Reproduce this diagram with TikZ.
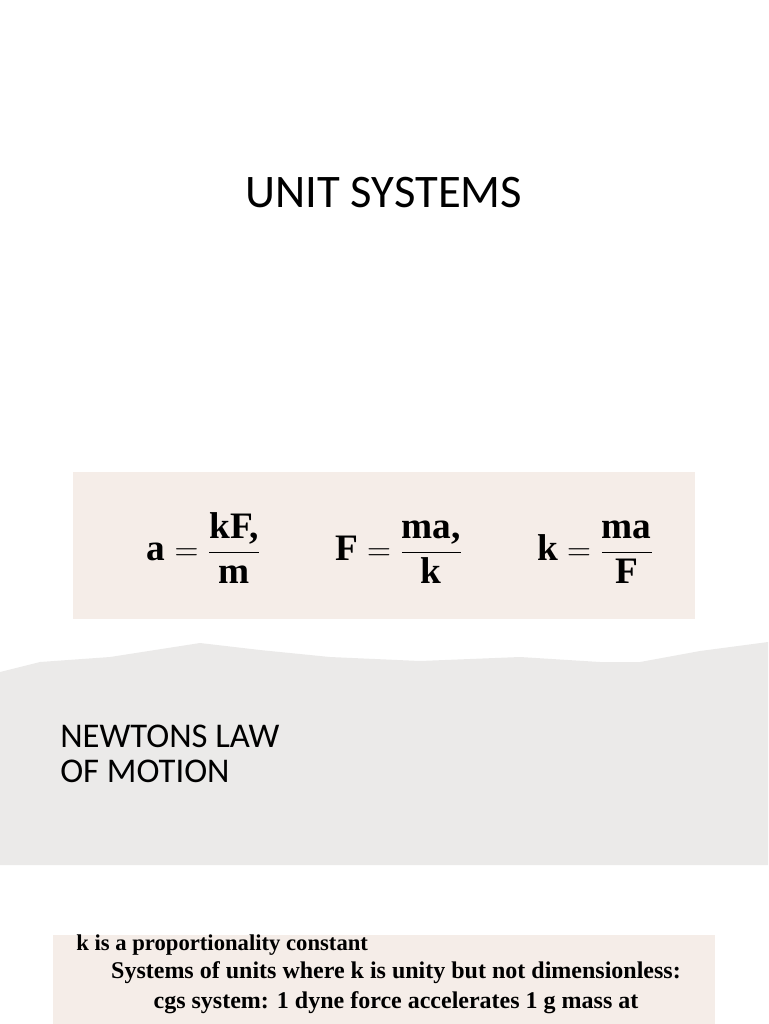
\documentclass[tikz,border=0pt]{standalone}
\usepackage{amsmath}
\usepackage{fontspec}
\setmainfont{Carlito}
\newfontfamily\scanfont{Liberation Serif}
\definecolor{bandgray}{HTML}{EBEAE9}
\definecolor{scanpaper}{HTML}{F5EDE8}
\newcommand{\sct}[1]{\text{\scanfont\bfseries #1}}
\tikzset{
  scan/.style={fill=scanpaper,draw=none},
  slidetext/.style={anchor=base west,inner sep=0pt,align=left},
}
\begin{document}
\begin{tikzpicture}[x=0.75pt,y=-0.75pt]
\useasboundingbox (0,0) rectangle (768,1024);
% le titre
\node[anchor=base,inner sep=0pt,font=\fontsize{35}{42}\selectfont] (title) at (384,207) {UNIT SYSTEMS};
% la bande grise
\fill[bandgray] (0,672)--(40,662)--(110,657)--(200,643)--(260,650)--(330,657)--(420,661)--(520,657)--(600,662)--(640,662)--(700,651)--(768,642)--(768,865)--(0,865)--cycle;
\node[slidetext,font=\fontsize{26}{26}\selectfont] (law) at (60,782) {NEWTONS LAW\\OF MOTION};
% les formules
\fill[scan] (73,472) rectangle (695,619);
\node[inner sep=0pt,font=\fontsize{28}{32}\selectfont] (eqs) at (400,548)
  {$\sct{a} = \dfrac{\sct{kF,}}{\sct{m}}\qquad\sct{F} = \dfrac{\sct{ma,}}{\sct{k}}\qquad\sct{k} = \dfrac{\sct{ma}}{\sct{F}}$};
% le bas
\fill[scan] (53,935) rectangle (715,1024);
\node[slidetext,font=\scanfont\bfseries\fontsize{17}{21}\selectfont] (kconst) at (76,950) {k is a proportionality constant};
\node[inner sep=0pt,anchor=base,align=center,font=\scanfont\bfseries\fontsize{18}{22.5}\selectfont] (units) at (396,1008) {Systems of units where k is unity but not dimensionless:\\cgs system: 1 dyne force accelerates 1 g mass at};
\end{tikzpicture}
\end{document}
